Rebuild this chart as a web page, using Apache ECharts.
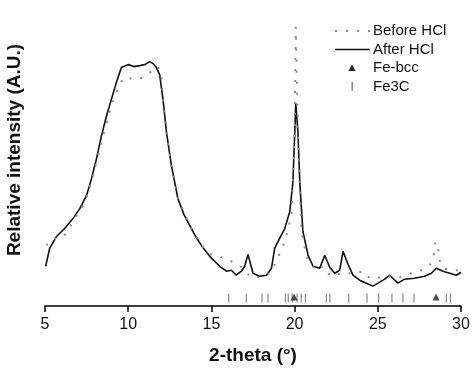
<!DOCTYPE html>
<html>
<head>
<meta charset="utf-8">
<script src="https://cdn.jsdelivr.net/npm/echarts@6/dist/echarts.min.js"></script>
<style>
html,body{margin:0;padding:0;background:#fff;}
#c{width:474px;height:370px;}
</style>
</head>
<body>
<div id="c"></div>
<script>
// After HCl (solid)
var afterX = [5.04,5.28,5.69,6.18,6.68,7.09,7.49,7.79,8.09,8.39,8.69,8.99,9.29,9.59,9.99,10.35,10.69,11.0,11.29,11.5,11.69,11.89,12.09,12.30,12.60,12.99,13.35,13.70,14.05,14.40,14.90,15.50,15.90,16.20,16.50,16.80,17.00,17.20,17.50,17.90,18.31,18.61,18.80,19.10,19.41,19.71,19.90,20.01,20.07,20.20,20.31,20.50,20.81,21.11,21.51,21.81,22.11,22.41,22.71,22.91,23.21,23.51,23.91,24.31,24.71,25.11,25.41,25.71,26.21,26.61,27.21,27.81,28.22,28.52,28.92,29.32,29.72,30.0];
var afterY = [40,58,70,78,88,98,111,128,148,171,191,208,225,240,243,241,242,243,246,244,240,233,208,175,141,108,92,81,70,61,50,40,35,36,31,35,40,52,33,30,31,38,58,68,78,95,125,175,204,175,125,75,51,40,38,51,39,33,36,55,42,31,26,23,20,24,27,31,23,27,28,30,33,38,35,33,31,34];
// Before HCl (dotted)
var beforeX = [5.08,5.46,5.88,6.29,6.68,7.28,7.57,7.87,8.17,8.47,8.77,9.01,9.29,9.59,9.89,10.27,10.6,10.89,11.39,11.79,11.99,12.09,12.30,12.60,12.99,13.70,14.40,14.90,15.40,15.90,16.30,16.70,17.10,17.50,18.10,18.50,18.91,19.41,19.81,20.01,20.07,20.20,20.41,20.71,20.81,21.31,21.71,22.11,22.51,22.91,23.31,23.71,24.11,24.51,24.92,25.31,25.71,26.21,26.61,27.21,27.81,28.22,28.38,28.46,28.62,28.72,28.92,29.42,29.82,30.0];
var beforeY = [61,68,68,73,85,101,113,130,150,170,188,203,215,226,231,228,229,230,236,241,232,208,175,141,108,81,61,52,50,48,44,41,33,28,30,33,45,65,91,175,281,175,75,51,45,36,40,31,33,31,33,33,35,28,29,28,30,28,31,34,37,43,53,65,58,46,38,36,36,35];
// Reference markers
var fe3cX = [16.04,17.10,18.04,18.40,19.45,19.62,19.85,20.15,20.40,20.65,21.91,22.12,23.25,24.35,25.05,25.85,26.51,27.18,29.12,29.36];
var febccX = [19.97,28.50];
var xTicks = [5,10,15,20,25,30];

var markY = 8;
var chart = echarts.init(document.getElementById('c'), null, {renderer:'canvas'});
function pairs(xs, ys){ return xs.map(function(x,i){return [x, ys[i]];}); }

var font = '"Liberation Sans", Arial, sans-serif';
var lx = 335, tx = 373, rows = [31, 49.5, 68, 86.5];

chart.setOption({
  animation:false,
  backgroundColor:'#fff',
  grid:{left:45, right:13, top:8, bottom:62},
  xAxis:{
    type:'value', min:5, max:30, interval:5,
    axisLine:{lineStyle:{color:'#000', width:1.5}},
    axisTick:{show:true, inside:false, length:6, lineStyle:{color:'#000', width:1.5}},
    axisLabel:{color:'#111', fontSize:16, fontFamily:font, margin:11,
      formatter:function(v){return xTicks.indexOf(v)>=0 ? String(v) : '';}},
    splitLine:{show:false},
    name:'2-theta (°)', nameLocation:'middle', nameGap:40,
    nameTextStyle:{color:'#111', fontSize:19, fontWeight:'bold', fontFamily:font}
  },
  yAxis:{
    type:'value', min:0, max:300,
    axisLine:{show:false}, axisTick:{show:false}, axisLabel:{show:false}, splitLine:{show:false}
  },
  series:[
    {name:'After HCl', type:'line', data:pairs(afterX, afterY), showSymbol:false, smooth:false,
      lineStyle:{color:'#111', width:1.6}, z:3},
    {name:'Before HCl', type:'line', data:pairs(beforeX, beforeY), showSymbol:false, smooth:false,
      lineStyle:{color:'#8a8a8a', width:2, type:[2,9]}, z:4},
    {name:'Fe3C', type:'scatter', data:fe3cX.map(function(x){return [x, markY];}),
      symbol:'rect', symbolSize:[1.3,9], itemStyle:{color:'#777'}, z:5},
    {name:'Fe-bcc', type:'scatter', data:febccX.map(function(x){return [x, markY+1];}),
      symbol:'triangle', symbolSize:7, itemStyle:{color:'#222'}, z:6}
  ],
  graphic:[
    {type:'text', x:15, y:150, rotation:Math.PI/2,
      style:{text:'Relative intensity (A.U.)', fill:'#111', font:'bold 19px '+font, textAlign:'center', textVerticalAlign:'middle'}},
    {type:'line', shape:{x1:lx, y1:rows[0], x2:lx+35, y2:rows[0]}, style:{stroke:'#8a8a8a', lineWidth:2, lineDash:[2,9]}},
    {type:'text', x:tx, y:rows[0], style:{text:'Before HCl', fill:'#111', font:'15px '+font, textVerticalAlign:'middle'}},
    {type:'line', shape:{x1:lx, y1:rows[1], x2:lx+35, y2:rows[1]}, style:{stroke:'#111', lineWidth:1.6}},
    {type:'text', x:tx, y:rows[1], style:{text:'After HCl', fill:'#111', font:'15px '+font, textVerticalAlign:'middle'}},
    {type:'polygon', shape:{points:[[352,rows[2]-3.5],[355.5,rows[2]+3],[348.5,rows[2]+3]]}, style:{fill:'#222'}},
    {type:'text', x:tx, y:rows[2], style:{text:'Fe-bcc', fill:'#111', font:'15px '+font, textVerticalAlign:'middle'}},
    {type:'rect', shape:{x:351.5, y:rows[3]-4.5, width:1.3, height:9}, style:{fill:'#777'}},
    {type:'text', x:tx, y:rows[3], style:{text:'Fe3C', fill:'#111', font:'15px '+font, textVerticalAlign:'middle'}}
  ]
});
</script>
</body>
</html>
